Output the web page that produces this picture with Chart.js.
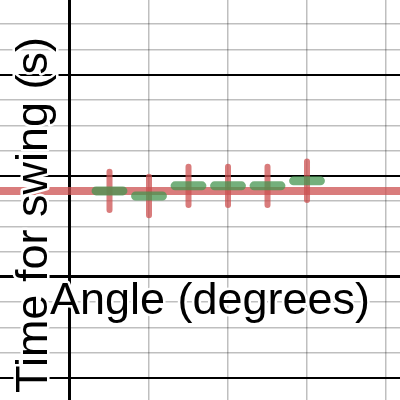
<!DOCTYPE html>
<html>
<head>
<meta charset="utf-8">
<script src="https://cdn.jsdelivr.net/npm/chart.js@4"></script>
<style>
  html, body { margin: 0; padding: 0; background: #fff; }
  #wrap { width: 400px; height: 400px; }
</style>
</head>
<body>
<div id="wrap"><canvas id="c"></canvas></div>
<script>
// measured data
var angles   = [5, 10, 15, 20, 25, 30];
var times    = [0.85, 0.80, 0.90, 0.90, 0.90, 0.95];
var timeErr  = 0.19;
var angleErr = 1.7;
var fitTime  = 0.85;

var RED   = 'rgba(204,80,80,0.75)';
var GREEN = 'rgba(70,150,80,0.75)';

function segments( vertical ) {
  var out = [];
  angles.forEach( function ( a, i ) {
    if ( vertical ) {
      out.push( { x: a, y: times[i] - timeErr }, { x: a, y: times[i] + timeErr } );
    } else {
      out.push( { x: a - angleErr, y: times[i] }, { x: a + angleErr, y: times[i] } );
    }
    out.push( { x: a, y: null } );
  } );
  return out;
}

var labelsPlugin = {
  id: 'axisLabels',
  afterDatasetsDraw: function ( chart ) {
    var ctx = chart.ctx;
    ctx.save();
    ctx.font = '45px "Liberation Sans", Arial, sans-serif';
    ctx.textBaseline = 'middle';
    ctx.lineJoin = 'round';
    ctx.lineWidth = 5;
    ctx.strokeStyle = '#fff';
    ctx.fillStyle = '#000';
    ctx.textAlign = 'center';
    ctx.strokeText( 'Angle (degrees)', 210, 302 );
    ctx.fillText( 'Angle (degrees)', 210, 302 );
    ctx.translate( 35, 215 );
    ctx.rotate( -Math.PI / 2 );
    ctx.strokeText( 'Time for swing (s)', 0, 0 );
    ctx.fillText( 'Time for swing (s)', 0, 0 );
    ctx.restore();
  }
};

new Chart( document.getElementById( 'c' ), {
  type: 'scatter',
  data: {
    datasets: [
      {
        type: 'line', data: segments( false ), spanGaps: false,
        borderColor: GREEN, borderWidth: 9, borderCapStyle: 'round', pointRadius: 0
      },
      {
        type: 'line', data: segments( true ), spanGaps: false,
        borderColor: RED, borderWidth: 6, borderCapStyle: 'round', pointRadius: 0
      },
      {
        type: 'line', data: [ { x: -20, y: fitTime }, { x: 60, y: fitTime } ],
        borderColor: RED, borderWidth: 8, pointRadius: 0
      }
    ]
  },
  options: {
    responsive: true,
    maintainAspectRatio: false,
    animation: false,
    layout: { padding: 0 },
    plugins: { legend: { display: false }, tooltip: { enabled: false } },
    scales: {
      x: {
        type: 'linear', min: -8.86, max: 41.77,
        ticks: { display: false, stepSize: 10, includeBounds: false },
        border: { display: false },
        grid: {
          drawTicks: false,
          color: function ( c ) { return c.tick.value === 0 ? '#000' : 'rgba(0,0,0,0.25)'; },
          lineWidth: function ( c ) { return c.tick.value === 0 ? 3 : 1.5; }
        }
      },
      y: {
        type: 'linear', min: -1.22, max: 2.74,
        ticks: { display: false, stepSize: 0.25, includeBounds: false },
        border: { display: false },
        grid: {
          drawTicks: false,
          color: function ( c ) {
            return Math.abs( c.tick.value - Math.round( c.tick.value ) ) < 1e-6 ? '#000' : 'rgba(0,0,0,0.25)';
          },
          lineWidth: function ( c ) {
            var v = c.tick.value;
            if ( Math.abs( v ) < 1e-6 ) { return 3; }
            return Math.abs( v - Math.round( v ) ) < 1e-6 ? 2 : 1.5;
          }
        }
      }
    }
  },
  plugins: [ labelsPlugin ]
} );
</script>
</body>
</html>
